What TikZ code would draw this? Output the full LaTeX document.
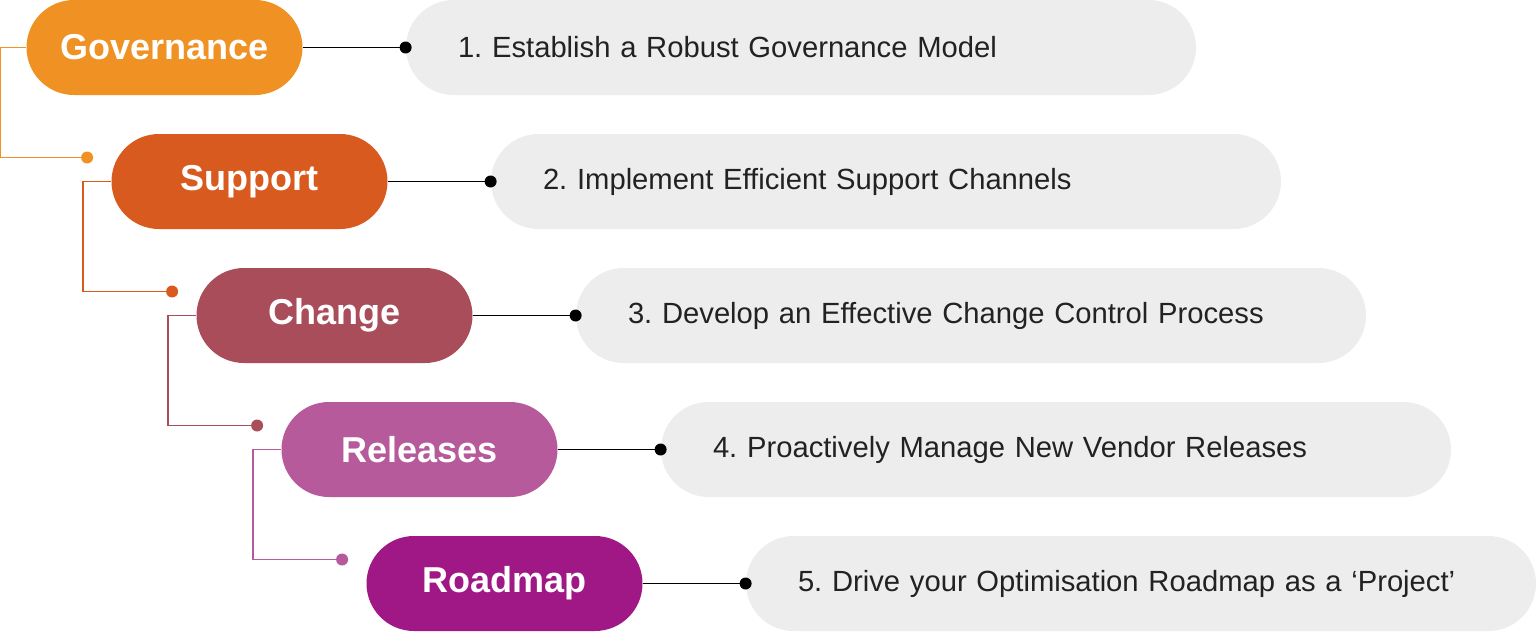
\documentclass[tikz,border=0pt]{standalone}
\usepackage{fontspec}
\setmainfont{Liberation Sans}
\usetikzlibrary{positioning}
\definecolor{gouv}{HTML}{EF9223}
\definecolor{supp}{HTML}{D85A1E}
\definecolor{chgt}{HTML}{AA4D5A}
\definecolor{vers}{HTML}{B75A9B}
\definecolor{plan}{HTML}{A01786}
\definecolor{gris}{HTML}{EDEDED}
\definecolor{texte}{HTML}{222222}
\frenchspacing
\begin{document}
\begin{tikzpicture}[x=0.5pt,y=-0.5pt,
    etape/.style={rounded corners=23.75pt,minimum width=138pt,minimum height=47.5pt,inner sep=0pt,
      text=white,font=\bfseries\fontsize{18}{20}\selectfont},
    action/.style={fill=gris,rounded corners=23.75pt,minimum height=47.5pt,text width=343pt,
      inner xsep=26pt,inner ysep=0pt,align=left,text=texte,font=\fontsize{14.6}{18}\selectfont},
    lien/.style={line width=0.75pt},
    branche/.style={line width=0.75pt,draw=#1}]
    \useasboundingbox (0,0) rectangle (1536,632);
    % étapes
    \node[etape,fill=gouv] (G) at (164.5,47.5) {Governance};
    \node[etape,fill=supp] (S) at (249.5,181.5) {Support};
    \node[etape,fill=chgt] (C) at (334.5,315.5) {Change};
    \node[etape,fill=vers] (R) at (419.5,449.5) {Releases};
    \node[etape,fill=plan] (M) at (504.5,583.5) {Roadmap};
    % actions
    \node[action] (A1) at (801,47.5) {1. Establish a Robust Governance Model};
    \node[action] (A2) at (886,181.5) {2. Implement Efficient Support Channels};
    \node[action] (A3) at (971,315.5) {3. Develop an Effective Change Control Process};
    \node[action] (A4) at (1056,449.5) {4. Proactively Manage New Vendor Releases};
    \node[action] (A5) at (1141,583.5) {5. Drive your Optimisation Roadmap as a ‘Project’};
    % liens vers les actions
    \draw[lien] (G.east) -- (A1.west) (S.east) -- (A2.west) (C.east) -- (A3.west)
      (R.east) -- (A4.west) (M.east) -- (A5.west);
    \foreach \a in {A1,A2,A3,A4,A5} \fill (\a.west) circle (3pt);
    % points d'arrivée des branches
    \coordinate[above left=12pt and 12pt of S.west] (dS);
    \coordinate[above left=12pt and 12pt of C.west] (dC);
    \coordinate[above left=12pt and 12pt of R.west] (dR);
    \coordinate[above left=12pt and 12pt of M.west] (dM);
    % branches
    \draw[branche=gouv] (G.west) -- ++(-26,0) |- (dS);
    \draw[branche=supp] (S.west) -- ++(-28,0) |- (dC);
    \draw[branche=chgt] (C.west) -- ++(-28,0) |- (dR);
    \draw[branche=vers] (R.west) -- ++(-28,0) |- (dM);
    \fill[gouv] (dS) circle (3pt);
    \fill[supp] (dC) circle (3pt);
    \fill[chgt] (dR) circle (3pt);
    \fill[vers] (dM) circle (3pt);
\end{tikzpicture}
\end{document}
